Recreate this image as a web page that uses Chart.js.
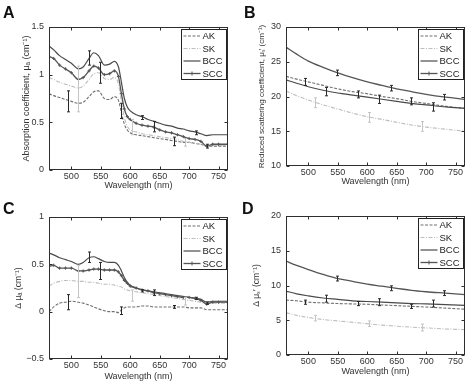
<!DOCTYPE html>
<html>
<head>
<meta charset="utf-8">
<script src="https://cdn.jsdelivr.net/npm/chart.js@4.4.0/dist/chart.umd.min.js"></script>
<style>
  html, body { margin: 0; padding: 0; background: #fff; }
  #wrap { position: relative; width: 474px; height: 392px; }
  canvas { position: absolute; }
</style>
</head>
<body>
<div id="wrap">
  <canvas id="chartA" width="237" height="196" style="left:0;top:0"></canvas>
  <canvas id="chartB" width="237" height="196" style="left:237px;top:0"></canvas>
  <canvas id="chartC" width="237" height="196" style="left:0;top:196px"></canvas>
  <canvas id="chartD" width="237" height="196" style="left:237px;top:196px"></canvas>
</div>
<script>
const seriesNames = ['AK', 'SK', 'BCC', 'SCC']
const xTicks = [500, 550, 600, 650, 700, 750]

// wavelengths (nm)
const wlSpectrum = [462, 470, 480, 490, 500, 512, 520, 530, 538, 546, 556, 565, 573, 580, 585, 590, 595, 600, 610, 620, 630, 640, 650, 660, 670, 680, 690, 700, 710, 720, 730, 740, 750, 766]
const wlSmooth = [462, 480, 500, 525, 550, 575, 600, 625, 650, 675, 700, 733, 766]

// error bar wavelengths per group
const barWlAK = [495, 585, 675]
const barWlSK = [512, 603, 693]
const barWlBCC = [530, 620, 712]
const barWlSCC = [548, 640, 730]

// A: absorption coefficient
const muaAK = [0.80, 0.78, 0.76, 0.74, 0.72, 0.70, 0.71, 0.77, 0.82, 0.83, 0.75, 0.74, 0.77, 0.73, 0.60, 0.48, 0.42, 0.39, 0.37, 0.36, 0.35, 0.34, 0.33, 0.32, 0.31, 0.30, 0.29, 0.29, 0.28, 0.27, 0.25, 0.25, 0.25, 0.25]
const muaSK = [0.97, 0.95, 0.92, 0.90, 0.88, 0.86, 0.88, 0.95, 1.01, 1.02, 0.96, 0.95, 0.97, 0.90, 0.72, 0.55, 0.46, 0.42, 0.40, 0.38, 0.37, 0.36, 0.35, 0.34, 0.33, 0.32, 0.30, 0.29, 0.28, 0.27, 0.25, 0.26, 0.26, 0.26]
const muaBCC = [1.30, 1.26, 1.20, 1.16, 1.12, 1.06, 1.08, 1.17, 1.23, 1.20, 1.10, 1.11, 1.14, 1.08, 0.92, 0.75, 0.66, 0.62, 0.58, 0.56, 0.53, 0.51, 0.49, 0.47, 0.46, 0.44, 0.43, 0.41, 0.40, 0.38, 0.36, 0.37, 0.37, 0.37]
const muaSCC = [1.19, 1.17, 1.10, 1.06, 1.02, 0.95, 0.97, 1.04, 1.09, 1.07, 1.00, 1.01, 1.04, 0.98, 0.80, 0.64, 0.56, 0.53, 0.49, 0.47, 0.46, 0.45, 0.42, 0.40, 0.39, 0.37, 0.35, 0.33, 0.32, 0.30, 0.25, 0.27, 0.27, 0.27]
// [centre, half length]
const muaBarAK = [[0.72, 0.11], [0.62, 0.08], [0.30, 0.045]]
const muaBarSK = [[0.85, 0.24], [0.45, 0.08], [0.29, 0.04]]
const muaBarBCC = [[1.175, 0.075], [0.55, 0.02], [0.39, 0.02]]
const muaBarSCC = [[1.02, 0.11], [0.455, 0.055], [0.25, 0.02]]

// B: reduced scattering coefficient
const musAK = [22.9, 22.5, 22.1, 21.6, 21.1, 20.7, 20.4, 20.0, 19.7, 19.3, 19.0, 18.6, 18.3]
const musSK = [20.8, 20.1, 19.5, 18.8, 18.2, 17.6, 17.1, 16.7, 16.3, 15.9, 15.6, 15.3, 15.0]
const musBCC = [22.4, 21.9, 21.4, 20.9, 20.5, 20.2, 19.9, 19.6, 19.3, 19.0, 18.8, 18.5, 18.3]
const musSCC = [27.1, 26.1, 25.1, 24.2, 23.4, 22.7, 22.1, 21.6, 21.1, 20.7, 20.3, 19.9, 19.6]
const musBarAK = [[22.1, 0.5], [20.3, 0.5], [19.3, 0.5]]
const musBarSK = [[19.1, 0.7], [17.0, 0.7], [15.7, 0.7]]
const musBarBCC = [[20.7, 0.6], [19.6, 0.6], [18.5, 0.6]]
const musBarSCC = [[23.4, 0.4], [21.2, 0.4], [19.9, 0.4]]

// C: delta absorption
const dMuaAK = [0.00, 0.05, 0.09, 0.10, 0.11, 0.10, 0.09, 0.07, 0.05, 0.03, 0.01, 0.00, 0.00, -0.01, 0.02, 0.04, 0.05, 0.05, 0.05, 0.06, 0.06, 0.05, 0.05, 0.05, 0.05, 0.05, 0.05, 0.04, 0.04, 0.04, 0.02, 0.02, 0.02, 0.02]
const dMuaSK = [0.27, 0.30, 0.32, 0.33, 0.33, 0.32, 0.32, 0.31, 0.31, 0.30, 0.29, 0.29, 0.28, 0.27, 0.26, 0.24, 0.23, 0.22, 0.21, 0.20, 0.19, 0.18, 0.17, 0.16, 0.15, 0.14, 0.13, 0.12, 0.11, 0.10, 0.08, 0.09, 0.09, 0.09]
const dMuaBCC = [0.62, 0.60, 0.57, 0.55, 0.53, 0.50, 0.52, 0.57, 0.58, 0.56, 0.53, 0.52, 0.52, 0.49, 0.43, 0.36, 0.31, 0.28, 0.25, 0.23, 0.22, 0.21, 0.20, 0.19, 0.18, 0.17, 0.16, 0.15, 0.14, 0.13, 0.10, 0.11, 0.11, 0.11]
const dMuaSCC = [0.48, 0.49, 0.46, 0.46, 0.46, 0.43, 0.43, 0.44, 0.45, 0.45, 0.44, 0.44, 0.44, 0.42, 0.38, 0.33, 0.30, 0.27, 0.25, 0.23, 0.22, 0.20, 0.19, 0.18, 0.17, 0.16, 0.15, 0.15, 0.14, 0.12, 0.08, 0.10, 0.10, 0.10]
const dMuaBarAK = [[0.10, 0.08], [0.01, 0.04], [0.05, 0.015]]
const dMuaBarSK = [[0.32, 0.17], [0.17, 0.06], [0.11, 0.04]]
const dMuaBarBCC = [[0.575, 0.055], [0.22, 0.012], [0.14, 0.012]]
const dMuaBarSCC = [[0.43, 0.09], [0.20, 0.03], [0.09, 0.012]]

// D: delta reduced scattering
const dMusAK = [7.9, 7.8, 7.6, 7.5, 7.4, 7.35, 7.3, 7.2, 7.1, 7.0, 6.9, 6.75, 6.6]
const dMusSK = [6.1, 5.7, 5.4, 5.1, 4.9, 4.7, 4.5, 4.3, 4.15, 4.0, 3.9, 3.75, 3.65]
const dMusBCC = [9.2, 8.8, 8.5, 8.2, 8.0, 7.8, 7.7, 7.6, 7.5, 7.4, 7.35, 7.25, 7.15]
const dMusSCC = [13.5, 12.9, 12.3, 11.6, 11.0, 10.6, 10.2, 9.9, 9.6, 9.3, 9.1, 8.9, 8.7]
const dMusBarAK = [[7.6, 0.3], [7.4, 0.3], [7.0, 0.3]]
const dMusBarSK = [[5.3, 0.4], [4.5, 0.4], [3.95, 0.5]]
const dMusBarBCC = [[8.1, 0.5], [7.6, 0.5], [7.4, 0.5]]
const dMusBarSCC = [[11.0, 0.35], [9.6, 0.35], [8.9, 0.35]]

const barWl = { AK: barWlAK, SK: barWlSK, BCC: barWlBCC, SCC: barWlSCC }

const styles = {
  AK: { color: '#707070', dash: [3, 1.5], bar: '#262626', width: 1.1 },
  SK: { color: '#bdbdbd', dash: [4, 1.5, 1, 1.5], bar: '#c4c4c4', width: 1.1 },
  BCC: { color: '#4a4a4a', dash: [], bar: '#2a2a2a', width: 1.2 },
  SCC: { color: '#555555', dash: [], bar: '#2a2a2a', width: 1.3 }
}

const FONT = "'Liberation Sans', Arial, Helvetica, sans-serif"
Chart.defaults.font.family = FONT
Chart.defaults.color = '#333'

function decorPlugin(panel) {
  return {
    id: 'decor',
    afterDatasetsDraw(chart) {
      const { ctx, chartArea: a, scales: { x, y } } = chart
      ctx.save()

      // error bars
      seriesNames.forEach(name => {
        const st = styles[name]
        ctx.strokeStyle = st.bar
        ctx.lineWidth = 1
        barWl[name].forEach((w, i) => {
          const [c, e] = panel.bars[name][i]
          const px = Math.round(x.getPixelForValue(w)) + 0.5
          const y1 = y.getPixelForValue(c - e)
          const y2 = y.getPixelForValue(c + e)
          ctx.beginPath()
          ctx.moveTo(px, y1); ctx.lineTo(px, y2)
          ctx.moveTo(px - 1.5, y1); ctx.lineTo(px + 1.5, y1)
          ctx.moveTo(px - 1.5, y2); ctx.lineTo(px + 1.5, y2)
          ctx.stroke()
        })
      })

      // axes box with inward ticks
      const L = a.left + 0.5, R = a.right - 0.5, T = a.top + 0.5, B = a.bottom - 0.5
      ctx.strokeStyle = '#2e2e2e'
      ctx.lineWidth = 1
      ctx.strokeRect(L, T, R - L, B - T)
      ctx.beginPath()
      xTicks.forEach(v => {
        const px = Math.round(x.getPixelForValue(v)) + 0.5
        ctx.moveTo(px, B); ctx.lineTo(px, B - 3)
        ctx.moveTo(px, T); ctx.lineTo(px, T + 3)
      })
      panel.yTicks.forEach(v => {
        const py = Math.round(y.getPixelForValue(v)) + 0.5
        ctx.moveTo(L, py); ctx.lineTo(L + 3, py)
        ctx.moveTo(R, py); ctx.lineTo(R - 3, py)
      })
      ctx.stroke()

      // legend
      const lw = 45, lh = 50
      const lx = Math.round(a.right - lw - 2) + 0.5
      const ly = Math.round(a.top + 2) + 0.5
      ctx.fillStyle = '#fff'
      ctx.fillRect(lx, ly, lw, lh)
      ctx.strokeStyle = '#222'
      ctx.strokeRect(lx, ly, lw, lh)
      ctx.font = '9.5px ' + FONT
      ctx.textBaseline = 'middle'
      seriesNames.forEach((name, i) => {
        const st = styles[name]
        const ry = ly + 6.5 + i * 12.5
        ctx.strokeStyle = st.color
        ctx.lineWidth = st.width
        ctx.setLineDash(st.dash)
        ctx.beginPath()
        ctx.moveTo(lx + 2, ry); ctx.lineTo(lx + 19, ry)
        ctx.stroke()
        ctx.setLineDash([])
        if (name === 'SCC') {
          ctx.lineWidth = 1
          ctx.beginPath()
          ctx.moveTo(lx + 10.5, ry - 2); ctx.lineTo(lx + 10.5, ry + 2)
          ctx.stroke()
        }
        ctx.fillStyle = '#222'
        ctx.fillText(name, lx + 21, ry + 0.5)
      })

      // panel letter
      ctx.fillStyle = '#111'
      ctx.font = 'bold 16px ' + FONT
      ctx.textBaseline = 'alphabetic'
      ctx.fillText(panel.letter, panel.letterX, 18)
      ctx.restore()
    }
  }
}

function renderPanel(canvasId, panel) {
  const ctx = document.getElementById(canvasId).getContext('2d')
  const datasets = seriesNames.map(name => {
    const st = styles[name]
    const marks = panel.markers && name === 'SCC'
    return {
      label: name,
      data: panel.wl.map((w, i) => ({ x: w, y: panel.series[name][i] })),
      borderColor: st.color,
      borderWidth: st.width,
      borderDash: st.dash,
      pointRadius: marks ? 1.6 : 0,
      pointStyle: 'cross',
      pointBorderColor: st.color,
      pointBorderWidth: 1,
      cubicInterpolationMode: 'monotone',
      fill: false
    }
  })

  return new Chart(ctx, {
    type: 'line',
    data: { datasets: datasets.reverse() },
    options: {
      responsive: false,
      animation: false,
      layout: { padding: { top: panel.top, right: 9, bottom: 0, left: 0 } },
      plugins: { legend: { display: false }, tooltip: { enabled: false } },
      scales: {
        x: {
          type: 'linear',
          min: 462,
          max: 766,
          grid: { display: false, drawTicks: false, tickLength: 0 },
          border: { display: false },
          afterBuildTicks: s => { s.ticks = xTicks.map(v => ({ value: v })) },
          afterFit: s => { s.height = 196 - panel.bottom },
          ticks: { font: { size: 9 }, padding: 1, maxRotation: 0, color: '#333' },
          title: {
            display: true,
            text: 'Wavelength (nm)',
            font: { size: 9 },
            color: '#333',
            padding: { top: 0, bottom: panel.xTitlePad }
          }
        },
        y: {
          min: panel.yMin,
          max: panel.yMax,
          grid: { display: false, drawTicks: false, tickLength: 0 },
          border: { display: false },
          afterBuildTicks: s => { s.ticks = panel.yTicks.map(v => ({ value: v })) },
          afterFit: s => { s.width = 49 },
          ticks: {
            font: { size: 9 },
            padding: 5,
            color: '#333',
            callback: v => String(v).replace('-', '\u2212')
          },
          title: {
            display: true,
            text: panel.yTitle,
            font: { size: panel.yTitleSize },
            color: '#333',
            padding: { top: panel.yTitleX, bottom: 0 }
          }
        }
      }
    },
    plugins: [decorPlugin(panel)]
  })
}

renderPanel('chartA', {
  letter: 'A', letterX: 3, top: 27, bottom: 170, xTitlePad: 5.5,
  yTitle: 'Absorption coefficient, \u03bc\u2090 (cm\u207b\u00b9)', yTitleSize: 9, yTitleX: 21,
  yMin: 0, yMax: 1.5, yTicks: [0, 0.5, 1, 1.5],
  wl: wlSpectrum, markers: true,
  series: { AK: muaAK, SK: muaSK, BCC: muaBCC, SCC: muaSCC },
  bars: { AK: muaBarAK, SK: muaBarSK, BCC: muaBarBCC, SCC: muaBarSCC }
})

renderPanel('chartB', {
  letter: 'B', letterX: 7, top: 27, bottom: 166, xTitlePad: 9,
  yTitle: 'Reduced scattering coefficient, \u03bc\u209b\u2032 (cm\u207b\u00b9)', yTitleSize: 8, yTitleX: 20,
  yMin: 10, yMax: 30, yTicks: [10, 15, 20, 25, 30],
  wl: wlSmooth, markers: false,
  series: { AK: musAK, SK: musSK, BCC: musBCC, SCC: musSCC },
  bars: { AK: musBarAK, SK: musBarSK, BCC: musBarBCC, SCC: musBarSCC }
})

renderPanel('chartC', {
  letter: 'C', letterX: 3, top: 21, bottom: 163, xTitlePad: 10.5,
  yTitle: '\u0394 \u03bc\u2090 (cm\u207b\u00b9)', yTitleSize: 8.5, yTitleX: 14,
  yMin: -0.5, yMax: 1, yTicks: [-0.5, 0, 0.5, 1],
  wl: wlSpectrum, markers: true,
  series: { AK: dMuaAK, SK: dMuaSK, BCC: dMuaBCC, SCC: dMuaSCC },
  bars: { AK: dMuaBarAK, SK: dMuaBarSK, BCC: dMuaBarBCC, SCC: dMuaBarSCC }
})

renderPanel('chartD', {
  letter: 'D', letterX: 5, top: 20, bottom: 159, xTitlePad: 15,
  yTitle: '\u0394 \u03bc\u209b\u2032 (cm\u207b\u00b9)', yTitleSize: 8.5, yTitleX: 15,
  yMin: 0, yMax: 20, yTicks: [0, 5, 10, 15, 20],
  wl: wlSmooth, markers: false,
  series: { AK: dMusAK, SK: dMusSK, BCC: dMusBCC, SCC: dMusSCC },
  bars: { AK: dMusBarAK, SK: dMusBarSK, BCC: dMusBarBCC, SCC: dMusBarSCC }
})
</script>
</body>
</html>
